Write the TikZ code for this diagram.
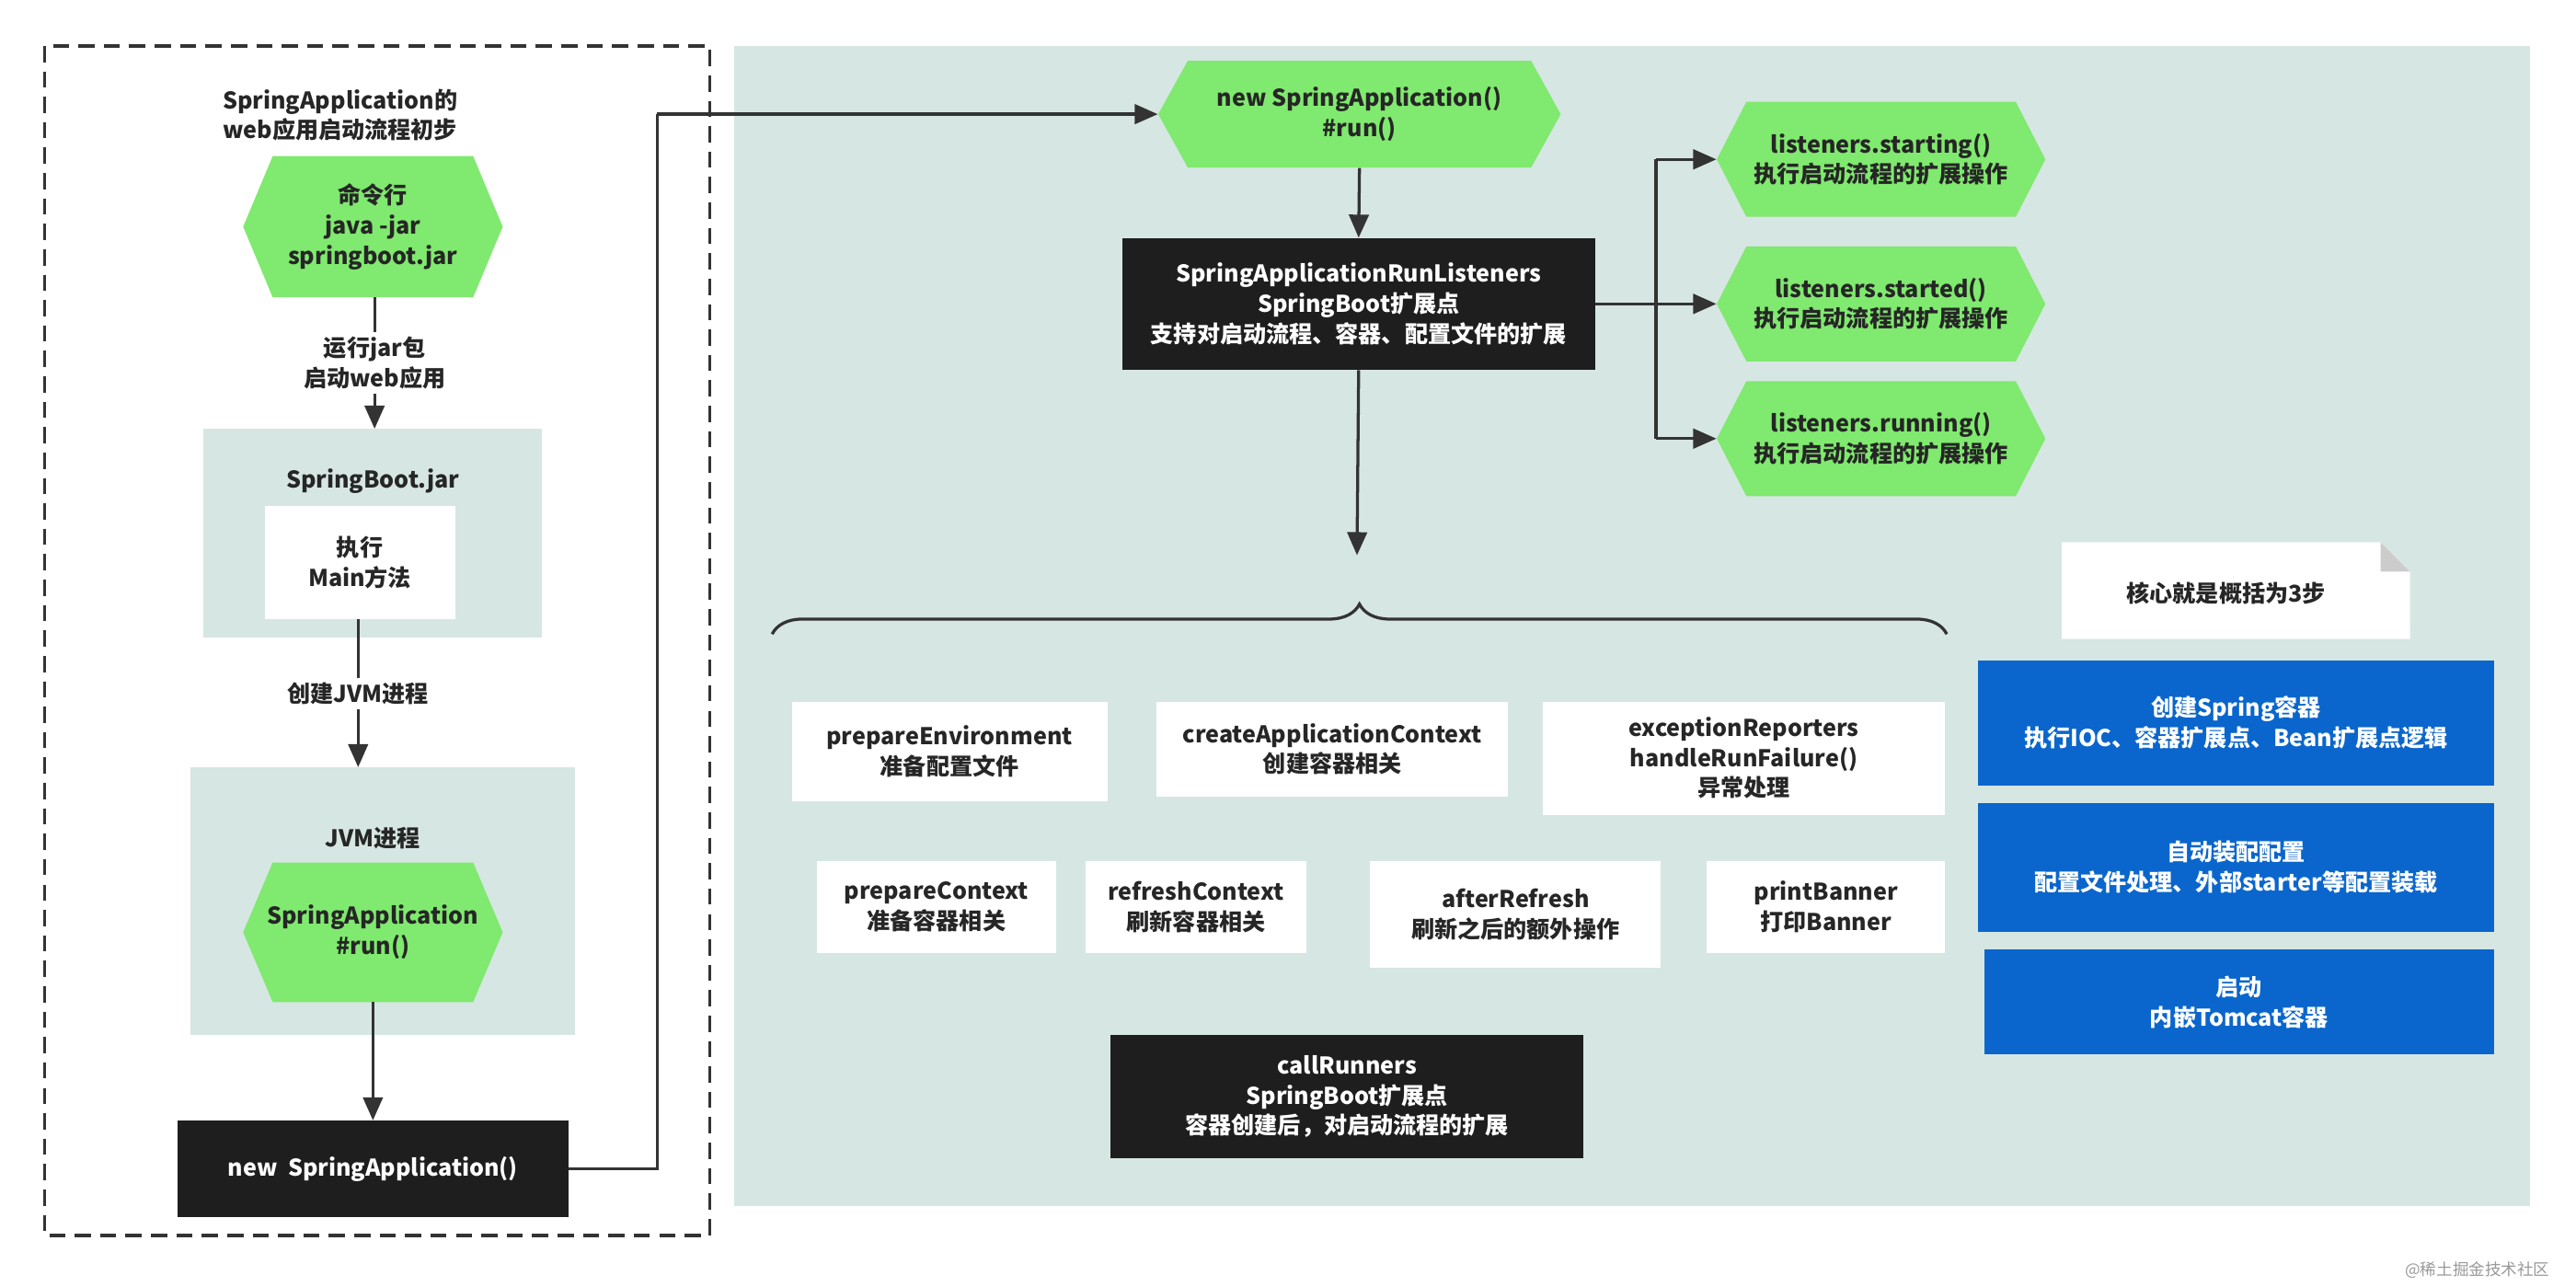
\documentclass[tikz,border=0pt]{standalone}
\usepackage{fontspec}
\setmainfont{Noto Sans CJK SC}
\usetikzlibrary{arrows.meta,decorations.pathreplacing}
\definecolor{grn}{HTML}{80E96F}
\definecolor{lbg}{HTML}{D6E6E3}
\definecolor{dk}{HTML}{1E1E1E}
\definecolor{blu}{HTML}{0A66CC}
\tikzset{
  txt/.style={font=\bfseries\fontsize{10}{13}\selectfont,align=center,text=black!85},
  wbox/.style={txt,fill=white,draw=none},
  bbox/.style={txt,fill=dk,text=white},
  blbox/.style={txt,fill=blu,text=white},
  arr/.style={draw=black!80,line width=1.3pt,-{Triangle[length=10pt,width=8.5pt]}},
  ln/.style={draw=black!80,line width=1.3pt}
}
\newcommand{\boxnode}[7]{% style,name,x1,y1,x2,y2,text
  \fill[#1] (#3,#4) rectangle (#5,#6);
  \node[#1,fill=none,minimum width={(#5-#3)*0.025cm},minimum height={(#6-#4)*0.025cm},inner sep=0pt] (#2) at ({(#3+#5)/2},{(#4+#6)/2}) {#7};}
\newcommand{\hexnode}[6]{% name,x1,y1,x2,y2,text
  \fill[grn] (#2+18,#3) -- (#4-18,#3) -- (#4,{(#3+#5)/2}) -- (#4-18,#5) -- (#2+18,#5) -- (#2,{(#3+#5)/2}) -- cycle;
  \node[txt,minimum width={(#4-#2)*0.025cm},minimum height={(#5-#3)*0.025cm},inner sep=0pt] (#1) at ({(#2+#4)/2},{(#3+#5)/2}) {#6};}
\begin{document}
\begin{tikzpicture}[x=0.025cm,y=-0.025cm]
\useasboundingbox[fill=white] (0,0) rectangle (1568,783);
% left
\draw[black!80,line width=1.3pt,dash pattern=on 7pt off 4pt] (27,28) rectangle (432,752);
\node[txt] (title) at (207,70) {SpringApplication的\\web应用启动流程初步};
\hexnode{cmd}{148}{95}{306}{181}{命令行\\java -jar\\springboot.jar}
\boxnode{fill=lbg}{sbj}{124}{261}{330}{388}{}
\node[txt] (sbjt) at (227,293) {SpringBoot.jar};
\boxnode{wbox}{mainm}{161}{308}{277}{377}{执行\\Main方法}
\boxnode{fill=lbg}{jvm}{116}{467}{350}{630}{}
\node[txt] (jvmt) at (227,510) {JVM进程};
\hexnode{run}{148}{525}{306}{610}{SpringApplication\\\#run()}
\boxnode{bbox}{newsa}{108}{682}{346}{741}{new\ \ SpringApplication()}
\draw[arr] (228,181) -- node[txt,fill=white,inner sep=2pt] (l1) {运行jar包\\启动web应用} (228,261);
\draw[arr] (218,377) -- node[txt,fill=white,inner sep=2pt] (l2) {创建JVM进程} (218,467);
\draw[arr] (227,610) -- (227,682);
% right bg
\fill[lbg] (447,28) rectangle (1540,734);
\hexnode{top}{705}{37}{950}{102}{new SpringApplication()\\\#run()}
\coordinate (bend) at (400,69.5);
\draw[ln] (newsa.east) -| (bend);
\draw[arr] (bend) -- (top.west);
\boxnode{bbox}{srl}{683}{145}{971}{225}{SpringApplicationRunListeners\\SpringBoot扩展点\\支持对启动流程、容器、配置文件的扩展}
\draw[arr] (top.south) -- (srl.north);
\hexnode{h1}{1045}{62}{1245}{132}{listeners.starting()\\执行启动流程的扩展操作}
\hexnode{h2}{1045}{150}{1245}{220}{listeners.started()\\执行启动流程的扩展操作}
\hexnode{h3}{1045}{232}{1245}{302}{listeners.running()\\执行启动流程的扩展操作}
\draw[ln] (srl.east) -- (1008,185);
\draw[ln] (1008,97) -- (1008,267);
\draw[arr] (1008,97) -- (h1.west);
\draw[arr] (1008,185) -- (h2.west);
\draw[arr] (1008,267) -- (h3.west);
\coordinate (bt) at (826,338);
\draw[arr] (srl.south) -- (bt);
\draw[ln,decorate,decoration={brace,amplitude=13pt}] (470,386) -- (1185,386);
\boxnode{wbox}{pe}{482}{427}{674}{488}{prepareEnvironment\\准备配置文件}
\boxnode{wbox}{cac}{704}{427}{918}{485}{createApplicationContext\\创建容器相关}
\boxnode{wbox}{er}{939}{427}{1184}{496}{exceptionReporters\\handleRunFailure()\\异常处理}
\boxnode{wbox}{pc}{497}{524}{643}{580}{prepareContext\\准备容器相关}
\boxnode{wbox}{rc}{661}{524}{795}{580}{refreshContext\\刷新容器相关}
\boxnode{wbox}{ar}{834}{524}{1011}{589}{afterRefresh\\刷新之后的额外操作}
\boxnode{wbox}{pb}{1039}{524}{1184}{580}{printBanner\\打印Banner}
\boxnode{bbox}{cr}{676}{630}{964}{705}{callRunners\\SpringBoot扩展点\\容器创建后，对启动流程的扩展}
% note
\fill[white] (1255,330) -- (1449,330) -- (1467,348) -- (1467,389) -- (1255,389) -- cycle;
\fill[black!20] (1449,330) -- (1449,348) -- (1467,348) -- cycle;
\node[txt] (note) at (1355,361) {核心就是概括为3步};
\boxnode{blbox}{b1}{1204}{402}{1518}{478}{创建Spring容器\\执行IOC、容器扩展点、Bean扩展点逻辑}
\boxnode{blbox}{b2}{1204}{489}{1518}{567}{自动装配配置\\配置文件处理、外部starter等配置装载}
\boxnode{blbox}{b3}{1208}{578}{1518}{642}{启动\\内嵌Tomcat容器}
\node[font=\fontsize{7}{8}\selectfont,text=black!40] (wm) at (1508,773) {@稀土掘金技术社区};
\end{tikzpicture}
\end{document}
